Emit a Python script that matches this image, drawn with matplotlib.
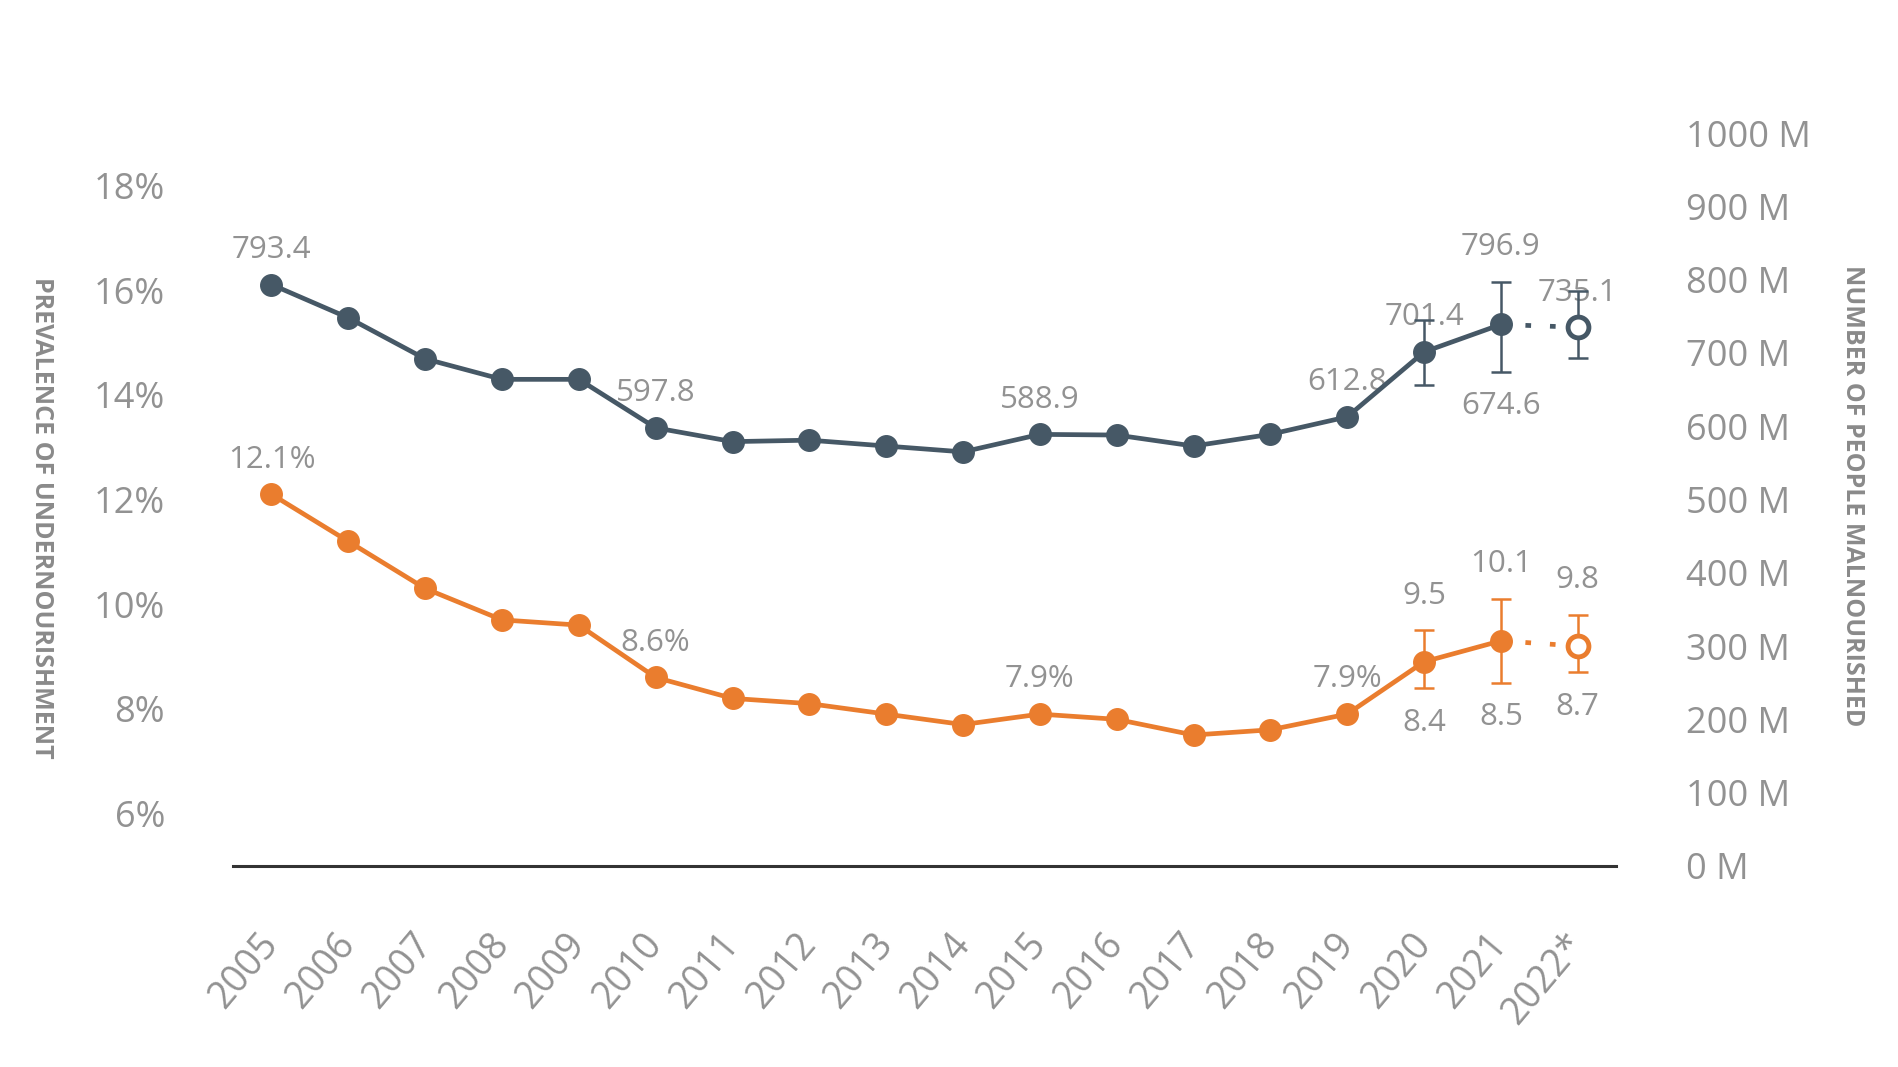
import matplotlib
matplotlib.use("Agg")
import matplotlib.pyplot as plt
import numpy as np

# データ
years = ['2005', '2006', '2007', '2008', '2009', '2010', '2011', '2012', '2013',
         '2014', '2015', '2016', '2017', '2018', '2019', '2020', '2021', '2022*']
pou = [12.1, 11.2, 10.3, 9.7, 9.6, 8.6, 8.2, 8.1, 7.9, 7.7, 7.9, 7.8, 7.5, 7.6,
       7.9, 8.9, 9.3, 9.2]
hungry = [793.4, 748, 692, 664, 664, 597.8, 579, 581, 573, 565, 588.9, 588, 573,
          589, 612.8, 701.4, 738.9, 735.1]

# 2020-2022 の幅
err_idx = [15, 16, 17]
pou_lo = [8.4, 8.5, 8.7]
pou_hi = [9.5, 10.1, 9.8]
hungry_lo = [656, 674.6, 693]
hungry_hi = [745, 796.9, 784]

left_ticks = [6, 8, 10, 12, 14, 16, 18]
right_ticks = [0, 100, 200, 300, 400, 500, 600, 700, 800, 900, 1000]

# ラベル (index, text, where)
pou_labels = [(0, '12.1%', 'pt'), (5, '8.6%', 'pt'), (10, '7.9%', 'pt'),
              (14, '7.9%', 'pt'), (15, '9.5', 'hi'), (15, '8.4', 'lo'),
              (16, '10.1', 'hi'), (16, '8.5', 'lo'), (17, '9.8', 'hi'),
              (17, '8.7', 'lo')]
hungry_labels = [(0, '793.4', 'pt'), (5, '597.8', 'pt'), (10, '588.9', 'pt'),
                 (14, '612.8', 'pt'), (15, '701.4', 'pt'), (16, '796.9', 'hi'),
                 (16, '674.6', 'lo'), (17, '735.1', 'pt')]

GREY = '#465866'
ORANGE = '#ea7d2e'
TXT = '#929292'

plt.rcParams['font.family'] = ['Open Sans', 'DejaVu Sans']

fig = plt.figure(figsize=(18.98, 10.67), dpi=100)
ax = fig.add_axes([0.1228, 0.1885, 0.7287, 0.6867])
ax2 = ax.twinx()

x = np.arange(len(years))


def draw_series(a, vals, lo, hi, color, labels):
    # 実線部分 (2005-2021)
    a.plot(x[:-1], vals[:-1], color=color, lw=3.4, marker='o', ms=15.5,
           solid_capstyle='round', zorder=3)
    # 点線 2021 -> 2022
    a.plot(x[-2:], vals[-2:], color=color, lw=3.4, linestyle=(0, (1.2, 4.0)),
           zorder=2)
    a.plot(x[-1], vals[-1], marker='o', ms=15, mfc='white', mec=color, mew=3.5,
           linestyle='none', zorder=4)
    ev = np.array([vals[i] for i in err_idx])
    a.errorbar(err_idx, ev, yerr=[ev - np.array(lo), np.array(hi) - ev],
               fmt='none', ecolor=color, elinewidth=1.8, capsize=7, capthick=1.8,
               zorder=2)
    for i, t, where in labels:
        if where == 'pt':
            y, dy = vals[i], 25
        elif where == 'hi':
            y, dy = hi[err_idx.index(i)], 25
        else:
            y, dy = lo[err_idx.index(i)], -25
        a.annotate(t, (x[i], y), xytext=(0, dy), textcoords='offset points',
                   ha='center', va='center', fontsize=22.5, color=TXT, zorder=1)


draw_series(ax, pou, pou_lo, pou_hi, ORANGE, pou_labels)
draw_series(ax2, hungry, hungry_lo, hungry_hi, GREY, hungry_labels)

ax.set_xlim(-0.5, 17.5)
ax.set_ylim(5, 19)
ax2.set_ylim(0, 1000)

ax.set_yticks(left_ticks)
ax.set_yticklabels([f'{v}%' for v in left_ticks])
ax2.set_yticks(right_ticks)
ax2.set_yticklabels([f'{v} M' for v in right_ticks])

ax.set_xticks(x)
ax.set_xticklabels(years, rotation=50, ha='right', va='center',
                   rotation_mode='anchor')

ax.tick_params(axis='y', length=0, pad=49, labelsize=26, labelcolor=TXT)
ax2.tick_params(axis='y', length=0, pad=50, labelsize=26, labelcolor=TXT)
ax.tick_params(axis='x', length=0, pad=52, labelsize=27, labelcolor=TXT)

for a in (ax, ax2):
    for s in a.spines.values():
        s.set_visible(False)
ax.spines['bottom'].set_visible(True)
ax.spines['bottom'].set_color('#333333')
ax.spines['bottom'].set_linewidth(2.2)
ax.spines['bottom'].set_zorder(5)

fig.text(0.022, 0.515, 'PREVALENCE OF UNDERNOURISHMENT', rotation=270,
         ha='center', va='center', fontsize=18, fontweight='bold', color='#8a8a8a')
fig.text(0.976, 0.535, 'NUMBER OF PEOPLE MALNOURISHED', rotation=270,
         ha='center', va='center', fontsize=18, fontweight='bold', color='#8a8a8a')

fig.savefig('out.png', dpi=100, facecolor='white')
